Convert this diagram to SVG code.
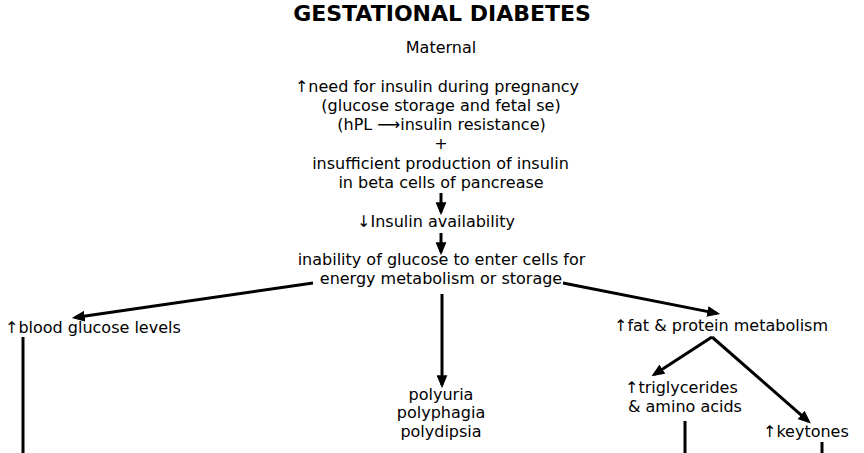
<svg xmlns="http://www.w3.org/2000/svg" width="864" height="453" viewBox="0 0 864 453">
<defs>
<style>
text{font-family:"DejaVu Sans",Verdana,"Liberation Sans",sans-serif;font-size:16px;fill:#000}
.c{text-anchor:middle}
.title{font-weight:bold;font-size:22px}
.ln{stroke:#000;stroke-width:3;fill:none}
.arr{marker-end:url(#ah)}
</style>
<marker id="ah" viewBox="0 0 12 10" refX="9" refY="5" markerWidth="13" markerHeight="11" markerUnits="userSpaceOnUse" orient="auto">
<path d="M0,0 L12,5 L0,10 z" fill="#000"/>
</marker>
</defs>
<rect width="864" height="453" fill="#fff"/>
<g id="title"><text class="title c" x="442" y="21">GESTATIONAL DIABETES</text></g>
<g id="maternal"><text class="c" x="441" y="53">Maternal</text></g>
<g id="cause">
<text class="c" x="437" y="92">↑need for insulin during pregnancy</text>
<text class="c" x="441" y="111">(glucose storage and fetal se)</text>
<text class="c" x="441.5" y="130">(hPL ⟶insulin resistance)</text>
<text class="c" x="441" y="149">+</text>
<text class="c" x="440.5" y="169">insufficient production of insulin</text>
<text class="c" x="441" y="188">in beta cells of pancrease</text>
</g>
<g id="availability"><text class="c" x="436" y="227">↓Insulin availability</text></g>
<g id="inability">
<text class="c" x="441.5" y="265">inability of glucose to enter cells for</text>
<text class="c" x="441" y="284">energy metabolism or storage</text>
</g>
<g id="bloodglucose"><text x="5" y="333">↑blood glucose levels</text></g>
<g id="symptoms">
<text class="c" x="441" y="400">polyuria</text>
<text class="c" x="441" y="418">polyphagia</text>
<text class="c" x="441" y="437">polydipsia</text>
</g>
<g id="fatprotein"><text x="614" y="331">↑fat &amp; protein metabolism</text></g>
<g id="triglycerides">
<text x="625" y="393">↑triglycerides</text>
<text x="628" y="412">&amp; amino acids</text>
</g>
<g id="keytones"><text x="763" y="437">↑keytones</text></g>
<g id="connectors">
<line class="ln arr" x1="441" y1="193" x2="441" y2="212"/>
<line class="ln arr" x1="441" y1="233" x2="441" y2="252"/>
<line class="ln arr" x1="313" y1="283" x2="75" y2="317.6"/>
<line class="ln arr" x1="563" y1="283" x2="717" y2="313.4"/>
<line class="ln arr" x1="442" y1="294" x2="442" y2="385"/>
<line class="ln arr" x1="712" y1="337" x2="654.2" y2="374.4"/>
<line class="ln arr" x1="712" y1="337" x2="808.4" y2="421.3"/>
<line class="ln" x1="23" y1="337" x2="23" y2="453"/>
<line class="ln" x1="685" y1="421" x2="685" y2="453"/>
<line class="ln" x1="822" y1="442" x2="822" y2="453"/>
</g>
</svg>
